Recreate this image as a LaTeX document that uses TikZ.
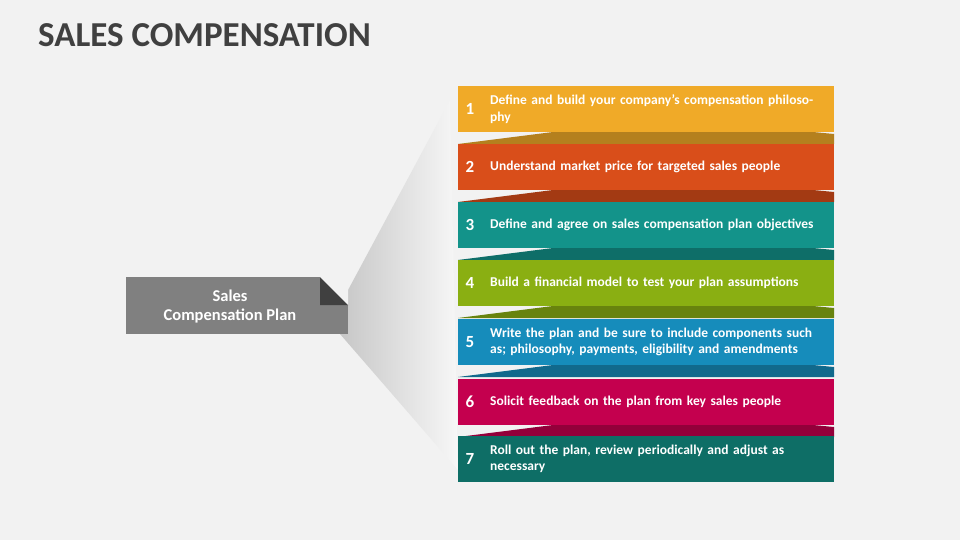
\documentclass[tikz,border=0pt]{standalone}
\usepackage{fontspec}
\setmainfont{Carlito}
\definecolor{bg}{HTML}{F2F2F2}
\definecolor{c1}{HTML}{F0AA28}\definecolor{c2}{HTML}{D94E1A}\definecolor{c3}{HTML}{13938A}
\definecolor{c4}{HTML}{8AAF12}\definecolor{c5}{HTML}{168CBB}\definecolor{c6}{HTML}{C4004E}
\definecolor{c7}{HTML}{0E6E66}
\begin{document}
\begin{tikzpicture}[x=1pt,y=-1pt,
  bartxt/.style={anchor=west,text=white,font=\bfseries\fontsize{13.5}{16.5}\selectfont,align=left,text width=330pt,inner sep=0pt},
  numtxt/.style={anchor=center,text=white,font=\bfseries\fontsize{17}{18}\selectfont}]
\fill[bg] (0,0) rectangle (960,540);
\useasboundingbox (0,0) rectangle (960,540);
\node[anchor=west,text=black!75,font=\bfseries\fontsize{35}{38}\selectfont,inner sep=0pt] (title) at (38,35) {SALES COMPENSATION};
% fan
\shade[left color=black!22,right color=black!3] (340,305) -- (450,100) -- (458,470) -- (340,334) -- cycle;
% label box
\fill[black!50] (126,277) rectangle (348,334);
\fill[black!75] (320,277) -- (348,305) -- (320,305) -- cycle;
\fill[bg] (320,277) -- (348,305) -- (348,277) -- cycle;
\node[text=white,font=\bfseries\fontsize{16.5}{19}\selectfont,align=center] (lbl) at (230,307) {Sales\\Compensation Plan};
% folds and bars
\foreach \t/\c/\n/\s/\f in {86/c1/1/{Define and build your company’s compensation philosophy}/1,
  144/c2/2/{Understand market price for targeted sales people}/1,
  202/c3/3/{Define and agree on sales compensation plan objectives}/1,
  260/c4/4/{Build a financial model to test your plan assumptions}/1,
  319/c5/5/{Write the plan and be sure to include components such\\as; philosophy, payments, eligibility and amendments}/1,
  379/c6/6/{Solicit feedback on the plan from key sales people}/1,
  436/c7/7/{Roll out the plan, review periodically and adjust as\\necessary}/0}{
  \ifnum\f=1
  \fill[\c!75!black] (458,\t+58) -- (553,\t+46) -- (813,\t+46) -- (834,\t+48) -- (834,\t+58) -- cycle;
  \fi
  \fill[\c] (458,\t) rectangle (834,\t+46);
  \node[numtxt] (n\n) at (470,\t+23) {\n};
  \node[bartxt] (b\n) at (490,\t+23) {\s};
}
\end{tikzpicture}
\end{document}
